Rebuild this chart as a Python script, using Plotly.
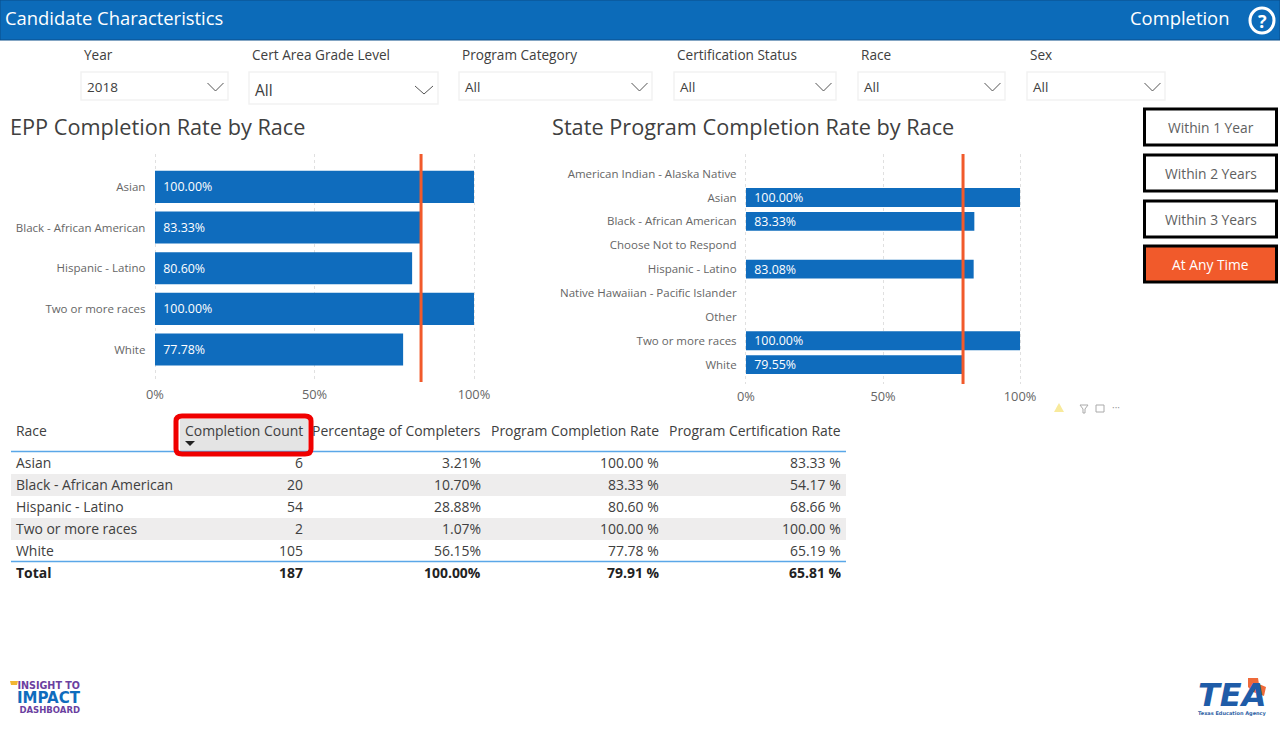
import plotly.graph_objects as go
from plotly.subplots import make_subplots

W, H = 1280, 729
FONT = "Open Sans"
BLUE = "#0f6cbd"
ORANGE = "#f15a2b"
TEXT = "#404040"

# chart data
epp_races = ["Asian", "Black - African American", "Hispanic - Latino", "Two or more races", "White"]
epp_rates = [1.0, 0.8333, 0.806, 1.0, 0.7778]
epp_target = 0.834

state_races = ["American Indian - Alaska Native", "Asian", "Black - African American",
               "Choose Not to Respond", "Hispanic - Latino",
               "Native Hawaiian - Pacific Islander", "Other", "Two or more races", "White"]
state_rates = [None, 1.0, 0.8333, None, 0.8308, None, None, 1.0, 0.7955]
state_target = 0.792

# table data
table_headers = ["Race", "Completion Count", "Percentage of Completers",
                 "Program Completion Rate", "Program Certification Rate"]
table_races = ["Asian", "Black - African American", "Hispanic - Latino", "Two or more races", "White"]
table_counts = ["6", "20", "54", "2", "105"]
table_pct = ["3.21%", "10.70%", "28.88%", "1.07%", "56.15%"]
table_compl = ["100.00 %", "83.33 %", "80.60 %", "100.00 %", "77.78 %"]
table_cert = ["83.33 %", "54.17 %", "68.66 %", "100.00 %", "65.19 %"]
table_total = ["Total", "187", "100.00%", "79.91 %", "65.81 %"]

# slicers
slicer_labels = ["Year", "Cert Area Grade Level", "Program Category", "Certification Status", "Race", "Sex"]
slicer_values = ["2018", "All", "All", "All", "All", "All"]
buttons = ["Within 1 Year", "Within 2 Years", "Within 3 Years", "At Any Time"]


def px(x):
    return x / W


def py(y):
    return 1 - y / H


shapes = []
annots = []


def rect(x0, y0, x1, y1, fill=None, line=None, lw=0):
    shapes.append(dict(type="rect", xref="paper", yref="paper", x0=px(x0), x1=px(x1), y0=py(y0), y1=py(y1),
                       fillcolor=fill or "rgba(0,0,0,0)", line=dict(color=line or "rgba(0,0,0,0)", width=lw),
                       layer="below"))


def hline(x0, x1, y, color, lw=1):
    shapes.append(dict(type="line", xref="paper", yref="paper", x0=px(x0), x1=px(x1), y0=py(y), y1=py(y),
                       line=dict(color=color, width=lw)))


def poly(points, fill=None, line=None, lw=1, closed=True):
    d = "M " + " L ".join(f"{px(a):.5f},{py(b):.5f}" for a, b in points) + (" Z" if closed else "")
    shapes.append(dict(type="path", xref="paper", yref="paper", path=d,
                       fillcolor=fill or "rgba(0,0,0,0)", line=dict(color=line or "rgba(0,0,0,0)", width=lw)))


def label(x, y, s, size=14, color=TEXT, anchor="left", bold=False, font=FONT):
    if bold:
        s = f"<b>{s}</b>"
    # annotations carry about 2px of padding
    shift = {"left": -2, "right": 2}.get(anchor, 0)
    annots.append(dict(xref="paper", yref="paper", x=px(x), y=py(y), text=s, showarrow=False,
                       xanchor=anchor, yanchor="middle", align=anchor, xshift=shift,
                       font=dict(family=font, size=size, color=color)))


# header bar
rect(0, 0, W, 40, fill="#0c6bb9", line="#0a4f8a", lw=1)
label(5, 17.5, "Candidate Characteristics", size=18.4, color="white")
label(1229, 17.5, "Completion", size=18.4, color="white", anchor="right")
shapes.append(dict(type="circle", xref="paper", yref="paper", x0=px(1250), x1=px(1274), y0=py(33), y1=py(8),
                   fillcolor="rgba(0,0,0,0)", line=dict(color="white", width=3)))
label(1262, 21, "?", size=18, color="white", anchor="center", bold=True)

# slicers
slicer_boxes = [(81, 228, 100), (249, 438, 104), (459, 652, 100), (674, 836, 100), (858, 1005, 100), (1027, 1165, 100)]
for name, val, (x0, x1, y1) in zip(slicer_labels, slicer_values, slicer_boxes):
    rect(x0, 72, x1, y1, fill="white", line="#f2f2f2", lw=1.5)
    label(x0 + 2.5, 55, name, size=13.6)
    big = x0 == 249
    label(x0 + 5.5, 90 if big else 87, val, size=15.5 if big else 13.5)
    cy = 90 if big else 87
    w = 9 if big else 8
    cx = x1 - 14 if big else x1 - 12.5
    poly([(cx - w, cy - 4), (cx, cy + 4), (cx + w, cy - 4)], line="#555555", lw=1, closed=False)

# chart titles
label(10, 126, "EPP Completion Rate by Race", size=21.7)
label(552, 126, "State Program Completion Rate by Race", size=21.7)

# toggle buttons
button_tops = [108, 154, 200, 245]
for name, top in zip(buttons, button_tops):
    on = name == "At Any Time"
    rect(1144.5, top + 1, 1276.5, top + 37, fill=ORANGE if on else "white", line="black", lw=3)
    label(1210.5, top + 19.2, name, size=13.8, color="white" if on else "#5f5f5f", anchor="center")

# table
rect(11, 474, 846, 496, fill="#eeeded")
rect(11, 518, 846, 540, fill="#eeeded")
rect(180, 419, 308, 452, fill="#e4e4e4")
hline(11, 846, 451.5, "#5aa7e8", 1.3)
hline(11, 846, 561.5, "#5aa7e8", 1.3)
shapes.append(dict(type="path", xref="paper", yref="paper",
                   path=" ".join([f"M {px(182):.5f},{py(416):.5f} L {px(305):.5f},{py(416):.5f}",
                                  f"Q {px(311):.5f},{py(416):.5f} {px(311):.5f},{py(421):.5f}",
                                  f"L {px(311):.5f},{py(449):.5f} Q {px(311):.5f},{py(454):.5f} {px(305):.5f},{py(454):.5f}",
                                  f"L {px(182):.5f},{py(454):.5f} Q {px(176):.5f},{py(454):.5f} {px(176):.5f},{py(449):.5f}",
                                  f"L {px(176):.5f},{py(421):.5f} Q {px(176):.5f},{py(416):.5f} {px(182):.5f},{py(416):.5f} Z"]),
                   line=dict(color="#f00000", width=5)))
poly([(185, 441), (195, 441), (190, 446)], fill="#222222")

col_right = [None, 303, 481, 659, 841]
TABLE_SIZE = 13.95
label(16, 430.3, table_headers[0], size=TABLE_SIZE)
for head, xr in zip(table_headers[1:], col_right[1:]):
    label(xr, 430.3, head, size=TABLE_SIZE, anchor="right")

for i, (race, cnt, pct, comp, cert) in enumerate(zip(table_races, table_counts, table_pct, table_compl, table_cert)):
    y = 462.5 + i * 22
    label(16, y, race, size=TABLE_SIZE)
    for val, xr in zip([cnt, pct, comp, cert], col_right[1:]):
        label(xr, y, val, size=TABLE_SIZE, anchor="right")
label(16, 572.5, table_total[0], size=TABLE_SIZE, bold=True, color="#222222")
for val, xr in zip(table_total[1:], col_right[1:]):
    label(xr, 572.5, val, size=TABLE_SIZE, anchor="right", bold=True, color="#222222")

# visual header icons
poly([(1059, 403), (1054, 412), (1064, 412)], fill="#f8ea9c")
poly([(1080, 405), (1088, 405), (1085, 409), (1085, 413), (1083, 413), (1083, 409)], line="#aaaaaa", lw=1)
rect(1096, 405, 1104, 412, line="#aaaaaa", lw=1)
label(1116, 407, "···", size=10, color="#999999", anchor="center")

# insight to impact logo, one text block so the lines stay tight
purple = "#6b3fa0"
logo_text = (f'<span style="font-size:9.6px;color:{purple}"><b>INSIGHT TO</b></span><br>'
             f'<sub><span style="font-size:15px;color:#0f6cbd"><b>IMPACT</b></span></sub><br>'
             f'<span style="font-size:8.5px;color:{purple}"><b>DASHBOARD</b></span>')
annots.append(dict(xref="paper", yref="paper", x=px(83), y=py(697), text=logo_text, showarrow=False,
                   xanchor="right", yanchor="middle", align="right",
                   font=dict(family="DejaVu Sans", size=9.2, color=purple)))
poly([(10, 681), (18, 681), (17, 685), (11, 685)], fill="#f2b632")

# tea logo, same idea
poly([(1248, 678), (1258, 678), (1259, 684), (1266, 687), (1264, 696), (1253, 692), (1248, 687)], fill="#ee6a3a")
tea_text = ('<span style="font-size:32px;color:#1f5ca8"><b><i>TEA</i></b></span><br>'
            '<span style="font-size:5px;color:#2e5fa5"><b>Texas Education Agency</b></span>')
annots.append(dict(xref="paper", yref="paper", x=px(1196), y=py(696), text=tea_text, showarrow=False,
                   xanchor="left", yanchor="middle", align="left",
                   font=dict(family="DejaVu Sans", size=7, color="#1f5ca8")))

# charts
fig = make_subplots(rows=1, cols=2)

fig.add_trace(go.Bar(y=epp_races, x=epp_rates, orientation="h", width=0.79, marker=dict(color=BLUE, line_width=0),
                     text=[f"\u00a0\u2009{v:.2%}" for v in epp_rates], textposition="inside", insidetextanchor="start",
                     insidetextfont=dict(color="white", size=12.4, family=FONT), textangle=0, constraintext="none",
                     cliponaxis=False, showlegend=False), row=1, col=1)
fig.add_trace(go.Bar(y=state_races, x=state_rates, orientation="h", width=0.79, marker=dict(color=BLUE, line_width=0),
                     text=["" if v is None else f"\u00a0\u2009{v:.2%}" for v in state_rates], textposition="inside",
                     insidetextanchor="start", insidetextfont=dict(color="white", size=12.4, family=FONT), textangle=0,
                     constraintext="none", cliponaxis=False, showlegend=False), row=1, col=2)

tick_font = dict(family=FONT, size=11.5, color="#666666")
x_common = dict(range=[-0.005, 1.005], tickvals=[0, 0.5, 1], tickformat=".0%",
                tickfont=dict(family=FONT, size=12.8, color="#666666"),
                showgrid=True, gridcolor="#e0e0e0", griddash="dot", gridwidth=1, zeroline=False, showline=False,
                ticks="outside", tickcolor="rgba(0,0,0,0)", fixedrange=True, automargin=False)
y_common = dict(tickfont=tick_font, showgrid=False, zeroline=False, showline=False, ticks="",
                ticklabelstandoff=7, type="category", automargin=False)
fig.update_xaxes(domain=[153.4 / W, 475.6 / W], anchor="y", ticklen=1, **x_common, row=1, col=1)
fig.update_xaxes(domain=[744.6 / W, 1021.4 / W], anchor="y2", ticklen=1, **x_common, row=1, col=2)
fig.update_yaxes(domain=[1 - 382 / H, 1 - 154 / H], range=[4.80, -0.81], categoryorder="array",
                 categoryarray=epp_races, **y_common, row=1, col=1)
fig.update_yaxes(domain=[1 - 384 / H, 1 - 154 / H], range=[8.81, -0.82], categoryorder="array",
                 categoryarray=state_races, **y_common, row=1, col=2)

for xr, yr, val in [("x", "y domain", epp_target), ("x2", "y2 domain", state_target)]:
    shapes.append(dict(type="line", xref=xr, yref=yr, x0=val, x1=val, y0=0, y1=1,
                       line=dict(color=ORANGE, width=3), layer="above"))

fig.update_layout(width=W, height=H, margin=dict(l=0, r=0, t=0, b=0), paper_bgcolor="white", plot_bgcolor="white",
                  showlegend=False, shapes=shapes, annotations=annots, font=dict(family=FONT))

fig.write_html("out.html", config=dict(displayModeBar=False),
               post_script="document.body.style.margin='0';document.body.style.overflow='hidden';")
